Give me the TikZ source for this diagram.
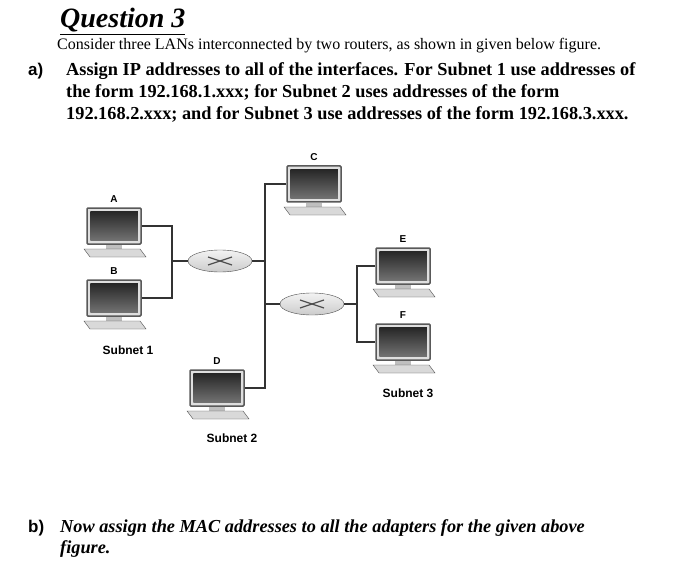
\documentclass[tikz,border=0pt]{standalone}
\usepackage{fontspec}
\setmainfont{Liberation Serif}
\setsansfont{Liberation Sans}
\usetikzlibrary{shapes.geometric}
\tikzset{
  monitor/.style={draw=gray!70!black, rounded corners=1pt, fill=gray!25, minimum width=54pt, minimum height=36pt, line width=1.5pt, inner sep=0pt},
  screen/.style={top color=black!85, bottom color=black!55},
  router/.style={ellipse, draw=gray!60!black, top color=gray!10, bottom color=gray!40, minimum width=64pt, minimum height=22pt, inner sep=0pt},
  pclabel/.style={font=\sffamily\bfseries\fontsize{10}{11}\selectfont},
  netlabel/.style={font=\sffamily\bfseries\fontsize{12}{13}\selectfont},
  cable/.style={draw=gray!40!black, line width=1.6pt},
  qtext/.style={anchor=base west, inner sep=0pt, font=\fontsize{18.3}{20}\selectfont\bfseries}
}
\begin{document}
\begin{tikzpicture}[x=1pt,y=-1pt]
  \useasboundingbox (0,0) rectangle (700,561);

  % Text
  \node[anchor=base west, inner sep=0pt, font=\fontsize{28}{30}\selectfont\bfseries\itshape] (title) at (60,28) {\underline{Question 3}};
  \node[anchor=base west, inner sep=0pt, font=\fontsize{16}{18}\selectfont] (intro) at (57,50) {Consider three LANs interconnected by two routers, as shown in given below figure.};
  \node[anchor=base west, inner sep=0pt, font=\sffamily\bfseries\fontsize{17}{19}\selectfont] (qa) at (28,76) {a)};
  \node[qtext] (a1) at (66,76) {Assign IP addresses to all of the interfaces. For Subnet 1 use addresses of};
  \node[qtext] (a2) at (66,98) {the form 192.168.1.xxx; for Subnet 2 uses addresses of the form};
  \node[qtext] (a3) at (66,120) {192.168.2.xxx; and for Subnet 3 use addresses of the form 192.168.3.xxx.};
  \node[anchor=base west, inner sep=0pt, font=\sffamily\bfseries\fontsize{17}{19}\selectfont] (qb) at (28,532) {b)};
  \node[qtext, font=\fontsize{18.3}{20}\selectfont\bfseries\itshape] (b1) at (60,532) {Now assign the MAC addresses to all the adapters for the given above};
  \node[qtext, font=\fontsize{18.3}{20}\selectfont\bfseries\itshape] (b2) at (60,553) {figure.};

  % Computers
  \foreach \name/\x/\y in {A/114/226, B/114/298, C/314/184, D/217/388, E/403/266, F/403/342}{
    \node[monitor] (\name) at (\x,\y) {};
    \shade[screen] ([shift={(4pt,-4pt)}]\name.north west) rectangle ([shift={(-4pt,4pt)}]\name.south east);
    \fill[gray!50] ([xshift=-8pt]\name.south) rectangle ([xshift=8pt,yshift=-5pt]\name.south);
    \draw[gray!60!black, fill=gray!30] (\x-30,\y+23) -- (\x+26,\y+23) -- (\x+32,\y+31) -- (\x-24,\y+31) -- cycle;
    \node[pclabel, above=1pt] (\name lbl) at (\name.north) {\name};
  }

  % Routers
  \node[router] (r1) at (220,261) {};
  \node[router] (r2) at (312,304) {};
  \foreach \r in {r1,r2}{
    \draw[gray!60!black, line width=1.2pt] ([shift={(-12pt,-4pt)}]\r.center) -- ([shift={(12pt,4pt)}]\r.center);
    \draw[gray!60!black, line width=1.2pt] ([shift={(-12pt,4pt)}]\r.center) -- ([shift={(12pt,-4pt)}]\r.center);
  }

  % Wiring
  \coordinate (s1) at (172,261);
  \coordinate (s3) at (357,304);
  \coordinate (bustop) at (265,188);
  \coordinate (busbot) at (265,388);
  \draw[cable] (A.east) -| (s1) |- (B.east);
  \draw[cable] (s1) -- (r1.west);
  \draw[cable] (C.west) -| (bustop) -- (busbot) -- (D.east);
  \draw[cable] (r1.east) -- (r1.east -| bustop);
  \draw[cable] (r2.west -| bustop) -- (r2.west);
  \draw[cable] (r2.east) -- (s3);
  \draw[cable] (E.west) -| (s3) |- (F.west);

  % Subnet labels
  \node[netlabel] (sn1) at (128,350) {Subnet 1};
  \node[netlabel] (sn2) at (232,438) {Subnet 2};
  \node[netlabel] (sn3) at (408,393) {Subnet 3};
\end{tikzpicture}
\end{document}
